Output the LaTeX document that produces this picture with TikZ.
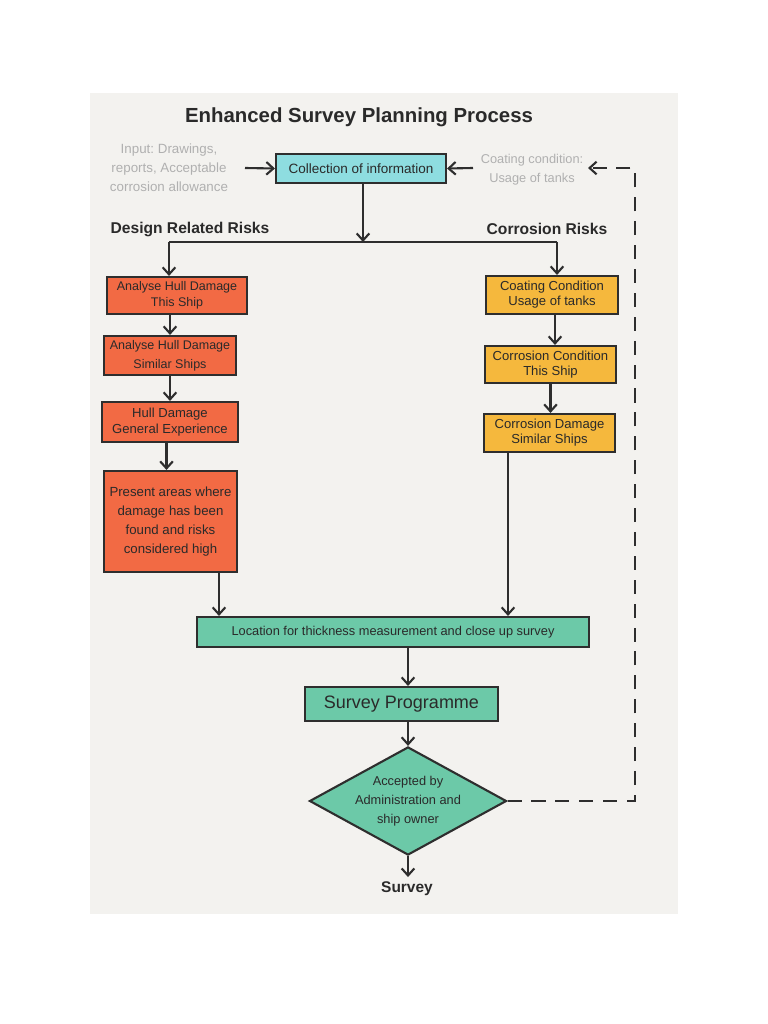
\documentclass[tikz,border=0pt]{standalone}
\usepackage{fontspec}
\setmainfont{Liberation Sans}
\usetikzlibrary{arrows.meta,shapes.geometric}
\frenchspacing
\newdimen\pu \pu=0.025cm
\definecolor{panel}{HTML}{F3F2EF}
\definecolor{orng}{HTML}{F26A44}
\definecolor{yelw}{HTML}{F5B83D}
\definecolor{cyn}{HTML}{8EDDE0}
\definecolor{teal2}{HTML}{6CC9A8}
\definecolor{lc}{HTML}{2E2E2E}
\definecolor{gtxt}{HTML}{B0B0B0}
\definecolor{tc}{HTML}{2A2A2A}
\tikzset{
  box/.style={draw=lc, line width=1.5pt, inner sep=0pt, align=center, text=tc},
  tip/.style={-{Straight Barb[length=5pt,width=9pt,line width=1.5pt]}},
  arr/.style={draw=lc, line width=1.5pt, tip},
  plain/.style={draw=lc, line width=1.5pt},
  dsh/.style={draw=lc, line width=1.6pt, dash pattern=on 10pt off 7pt},
  gray/.style={text=gtxt, align=center},
  head/.style={text=tc, font=\bfseries\fontsize{11.1}{13}\selectfont}
}
\begin{document}
\begin{tikzpicture}[x=0.025cm,y=-0.025cm]
\useasboundingbox (0,0) rectangle (768,1024);
\fill[white] (0,0) rectangle (768,1024);
\fill[panel] (90,93) rectangle (678,914);

\node[text=tc, font=\bfseries\fontsize{14.5}{17}\selectfont] (title) at (359,117) {Enhanced Survey Planning Process};

\node[gray, font=\fontsize{9.5}{13.5}\selectfont] (intxt) at (169,168) {Input: Drawings,\\reports, Acceptable\\corrosion allowance};
\node[gray, font=\fontsize{9.1}{13.5}\selectfont] (cotxt) at (532,169.5) {Coating condition:\\Usage of tanks};

\node[box, fill=cyn, minimum width=170\pu, minimum height=29\pu, font=\fontsize{9.6}{11.5}\selectfont] (coll) at (361,168.5) {Collection of information};

\node[head] (dr) at (190,229) {Design Related Risks};
\node[head] (cr) at (547,229) {Corrosion Risks};

% left column
\node[box, fill=orng, minimum width=140\pu, minimum height=37\pu, font=\fontsize{8.9}{11.3}\selectfont] (a1) at (177,295.5) {Analyse Hull Damage\\This Ship};
\node[box, fill=orng, minimum width=132\pu, minimum height=39\pu, font=\fontsize{8.9}{13.4}\selectfont] (a2) at (170,355.5) {Analyse Hull Damage\\Similar Ships};
\node[box, fill=orng, minimum width=136\pu, minimum height=40\pu, font=\fontsize{9.3}{11.3}\selectfont] (a3) at (170,422) {Hull Damage\\General Experience};
\node[box, fill=orng, minimum width=133\pu, minimum height=101\pu, font=\fontsize{9.4}{13.5}\selectfont] (a4) at (170.5,521.5) {Present areas where\\damage has been\\found and risks\\considered high};

% right column
\node[box, fill=yelw, minimum width=132\pu, minimum height=38\pu, font=\fontsize{9.3}{10.8}\selectfont] (c1) at (552,295) {Coating Condition\\Usage of tanks};
\node[box, fill=yelw, minimum width=131\pu, minimum height=37\pu, font=\fontsize{9.3}{10.8}\selectfont] (c2) at (550.5,364.5) {Corrosion Condition\\This Ship};
\node[box, fill=yelw, minimum width=131\pu, minimum height=38\pu, font=\fontsize{9.3}{10.8}\selectfont] (c3) at (549.5,433) {Corrosion Damage\\Similar Ships};

\node[box, fill=teal2, minimum width=392\pu, minimum height=30\pu, font=\fontsize{9.1}{11}\selectfont] (loc) at (393,632) {Location for thickness measurement and close up survey};
\node[box, fill=teal2, minimum width=193\pu, minimum height=34\pu, font=\fontsize{12.8}{15}\selectfont] (prog) at (401.5,704) {Survey Programme};
\node[box, fill=teal2, shape=diamond, aspect=1.82, minimum width=197\pu, minimum height=108\pu, font=\fontsize{9.1}{13.5}\selectfont] (dia) at (408,801) {Accepted by\\Administration and\\ship owner};
\node[text=tc, font=\bfseries\fontsize{11}{13}\selectfont] (surv) at (407,889) {Survey};

% connectors
\coordinate (inl) at (245,168);
\coordinate (inr) at (473,168);
\draw[arr] (inl) -- (coll.west);
\draw[arr] (inr) -- (coll.east);
\coordinate (j) at (363,242);
\coordinate (jl) at (169,242);
\coordinate (jr) at (557,242);
\draw[arr] (coll.south -| j) -- (j);
\draw[plain] (jl) -- (jr);
\draw[arr] (jl) -- (jl |- a1.north);
\draw[arr] (jr) -- (jr |- c1.north);
\draw[arr] (a1.south -| a2.north) -- (a2.north);
\draw[arr] (a2.south) -- (a3.north);
\draw[arr] ([xshift=-4\pu]a4.north |- a3.south) -- ([xshift=-4\pu]a4.north);
\draw[arr] ([xshift=48.5\pu]a4.south) -- ([xshift=48.5\pu]a4.south |- loc.north);
\draw[arr] ([xshift=3\pu]c1.south) -- ([xshift=3\pu]c1.south |- c2.north);
\draw[arr] (c2.south) -- (c2.south |- c3.north);
\draw[arr] ([xshift=-41.5\pu]c3.south) -- ([xshift=-41.5\pu]c3.south |- loc.north);
\draw[arr] ([xshift=6.5\pu]prog.north |- loc.south) -- ([xshift=6.5\pu]prog.north);
\draw[arr] (prog.south -| dia.north) -- (dia.north);
\draw[arr] (dia.south) -- (dia.south |- surv.north);
\coordinate (d1) at (635,801);
\coordinate (d2) at (635,168);
\coordinate (d3) at (588,168);
\draw[dsh, tip] (dia.east) -- (d1) -- (d2) -- (d3);
\end{tikzpicture}
\end{document}
